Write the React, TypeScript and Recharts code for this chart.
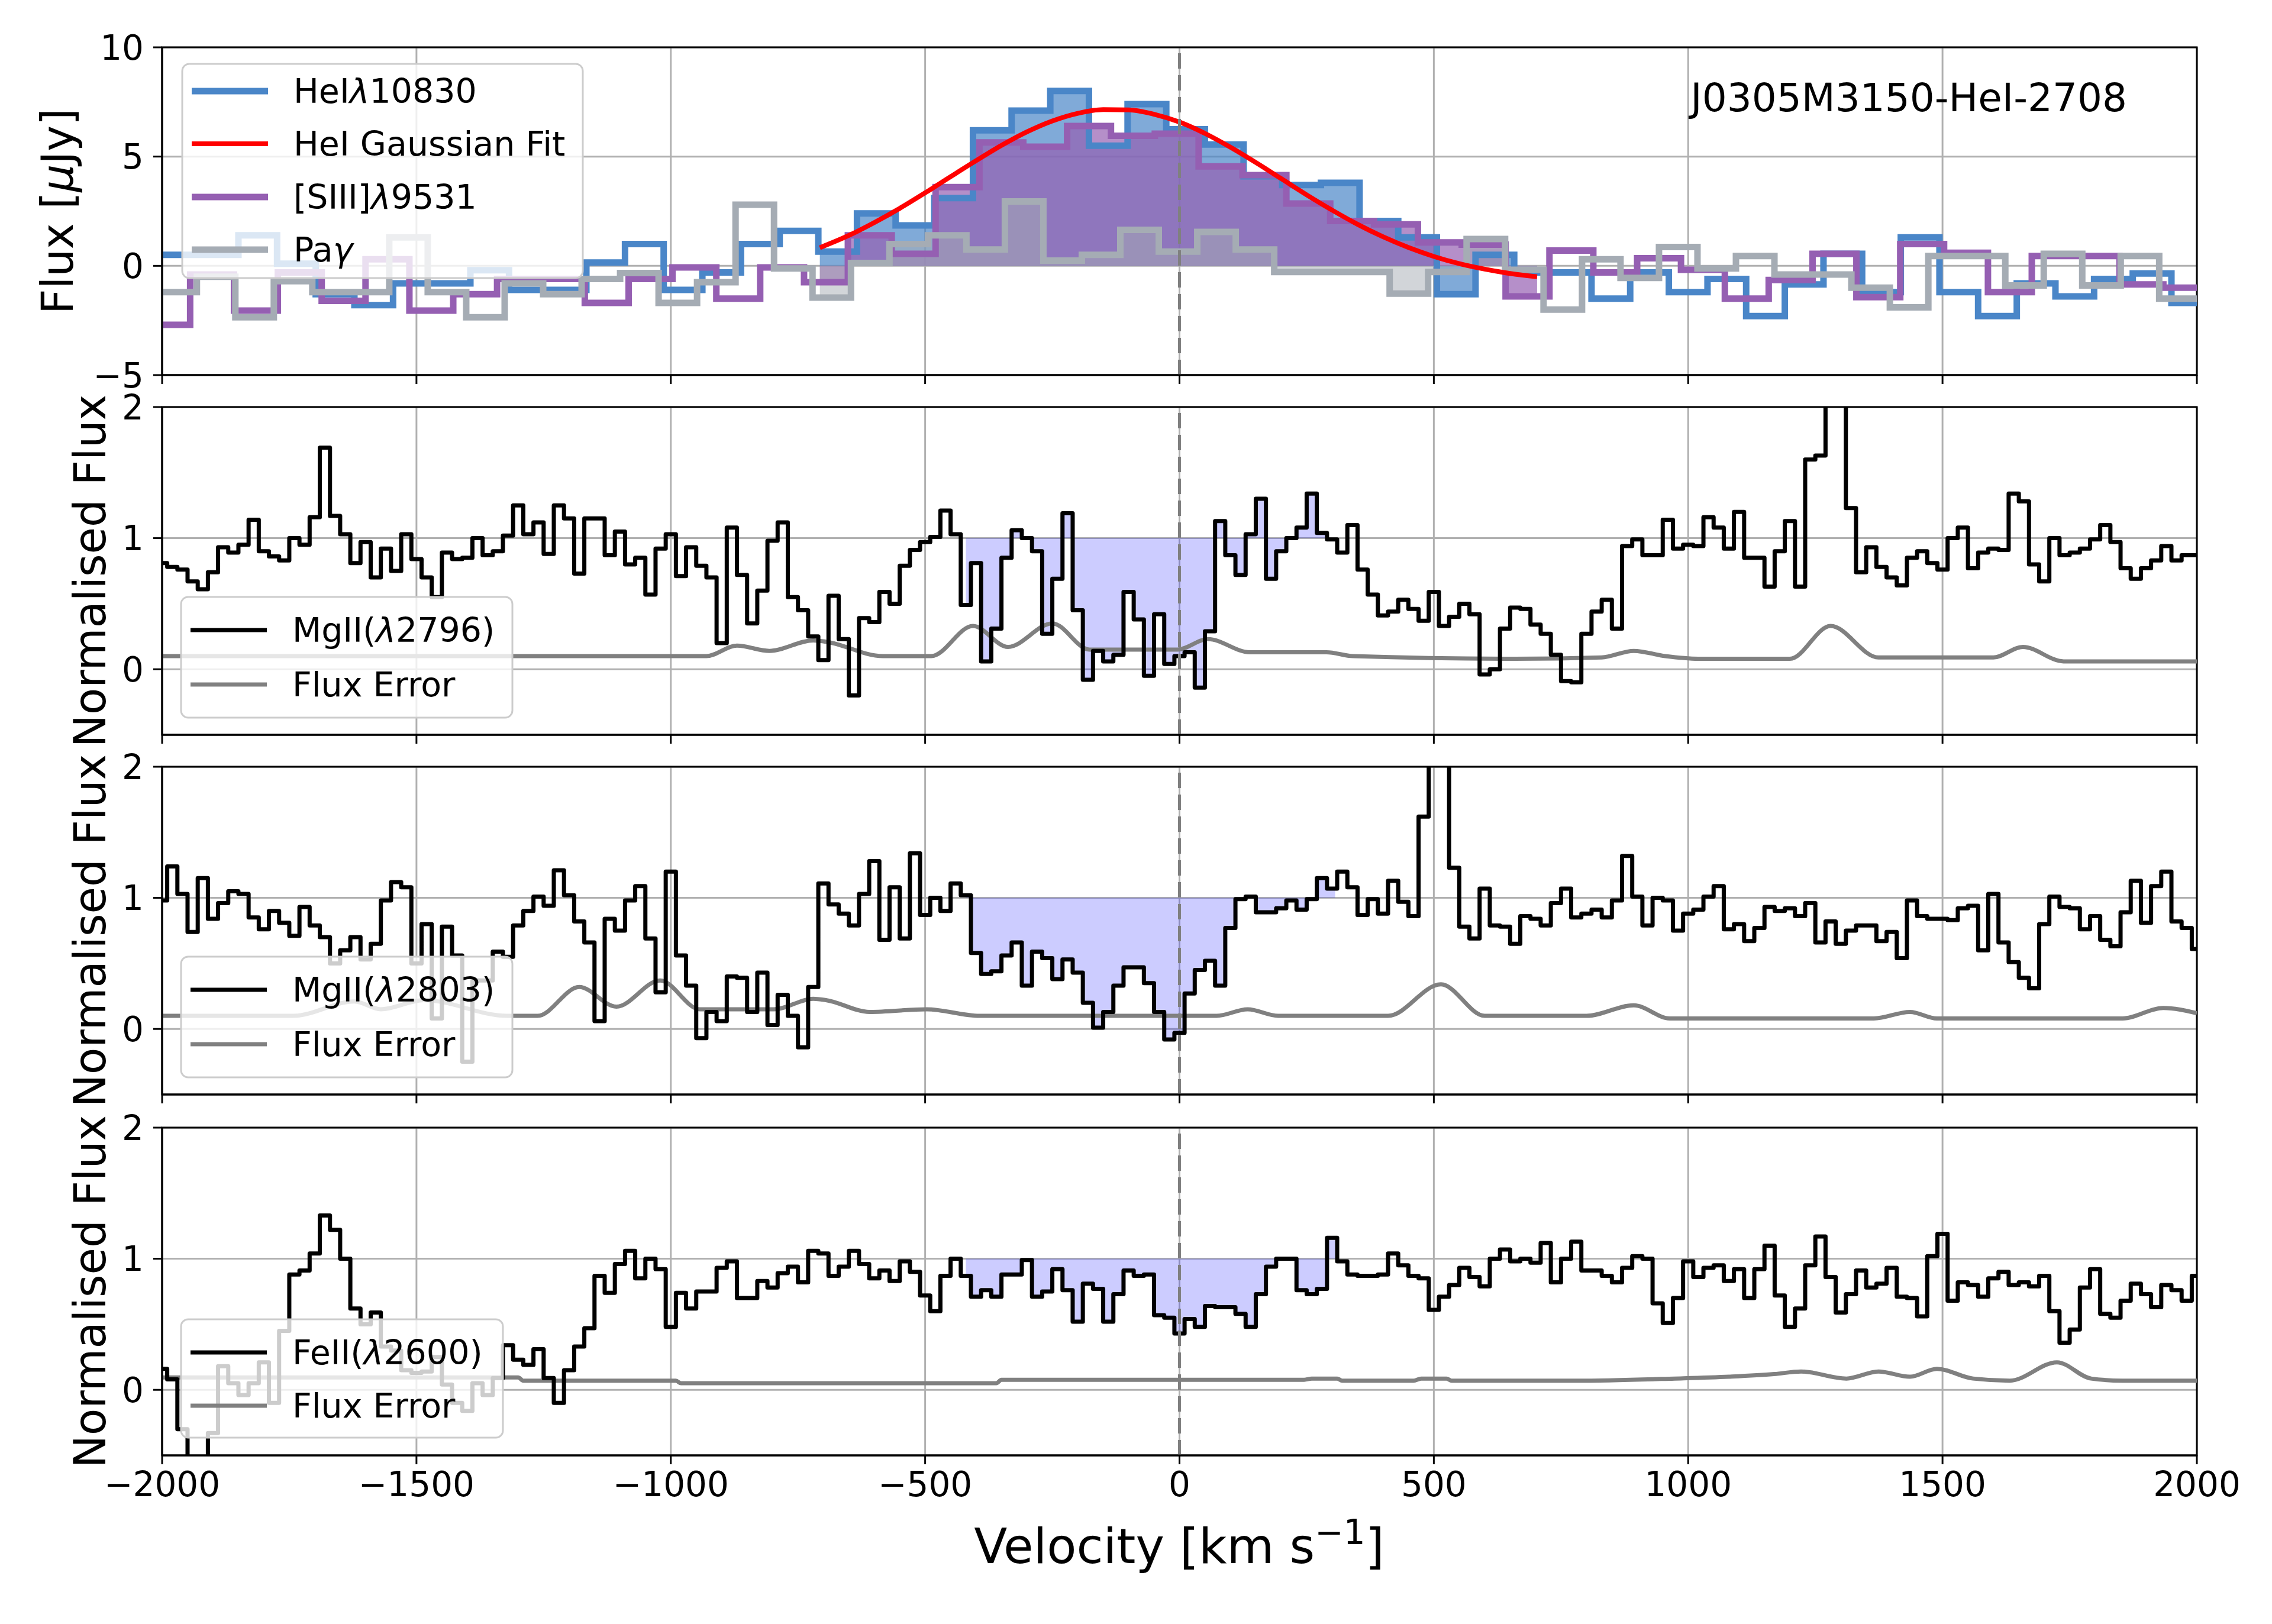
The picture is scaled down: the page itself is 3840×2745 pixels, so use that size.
import React from 'react';
import {
  ComposedChart,
  Line,
  Area,
  XAxis,
  YAxis,
  CartesianGrid,
  ReferenceLine,
  ReferenceArea,
} from 'recharts';

const FONT = "'DejaVu Sans', sans-serif";

// pixel grids in km/s: centre of first pixel and pixel width
const HEI_V0 = -1964;
const HEI_DV = 76;
const SIII_V0 = -1988;
const SIII_DV = 86.2;
const PAG_V0 = -1969.5;
const PAG_DV = 75.64;
const ABS_V0 = -2000;
const ABS_DV = 20;

// emission lines, flux in uJy
const heiFlux = [
  0.5, 0.5, 1.4, 0.1, -1.3, -1.8, -0.8, -0.8, -0.2, -1.1,
  -1.1, 0.15, 1.0, -1.1, -0.3, 1.0, 1.6, 0.65, 2.4, 1.85,
  3.1, 6.2, 7.1, 8.0, 5.5, 7.4, 6.25, 5.55, 4.1, 3.7,
  3.8, 2.05, 1.3, -1.3, 0.5, -0.3, -0.3, -1.5, -0.3, -1.2,
  -0.6, -2.3, -0.85, 0.55, -1.2, 1.3, -1.2, -2.3, -0.8, -1.4,
  -0.6, -0.35, -1.7, -1.7,
];
const siiiFlux = [
  -2.7, -0.4, -2.05, -0.3, -1.6, 0.3, -2.05, -1.3, -0.6, -0.6,
  -1.7, -0.6, -0.07, -1.5, -0.07, -0.75, 1.4, 0.55, 3.6, 5.65,
  5.45, 6.4, 5.95, 6.05, 4.55, 4.15, 2.85, 2.05, 1.9, 1.07,
  0.97, -1.4, 0.7, -0.3, 0.35, -0.18, -1.5, -0.65, 0.55, -1.43,
  1.0, 0.6, -1.2, 0.45, 0.45, -0.85, -1.0, -1.0,
];
const pagFlux = [
  -1.2, -0.5, -2.35, -0.7, -1.2, -1.2, 1.3, -1.2, -2.35, -0.8,
  -1.3, -0.6, -0.33, -1.7, -0.75, 2.8, -0.12, -1.45, 0.13, 1.0,
  1.4, 0.75, 2.95, 0.24, 0.5, 1.65, 0.65, 1.55, 0.75, -0.28,
  -0.28, -0.28, -1.27, -0.28, 1.23, -0.18, -2.0, 0.3, -0.55, 0.86,
  -0.12, 0.45, -0.4, -0.4, -1.0, -1.9, 0.45, 0.45, -0.9, 0.55,
  -0.9, 0.45, -1.5, -1.5,
];
const gaussV = [
  -707, -650, -600, -550, -500, -450, -400, -350, -300, -250,
  -200, -150, -100, -50, 0, 50, 100, 150, 200, 250,
  300, 350, 400, 450, 500, 550, 600, 650, 703,
];
const gaussFlux = [
  0.83, 1.39, 1.98, 2.63, 3.34, 4.08, 4.81, 5.51, 6.13, 6.63,
  6.98, 7.15, 7.14, 6.94, 6.58, 6.06, 5.43, 4.73, 3.99, 3.25,
  2.55, 1.9, 1.33, 0.84, 0.43, 0.1, -0.15, -0.35, -0.5,
];

// absorption lines, normalised flux on the 20 km/s grid
const mg2796 = [
  0.81, 0.78, 0.76, 0.67, 0.61, 0.74, 0.93, 0.89, 0.95, 1.14,
  0.9, 0.86, 0.83, 1.0, 0.95, 1.16, 1.69, 1.17, 1.03, 0.81,
  0.97, 0.7, 0.92, 0.75, 1.03, 0.84, 0.7, 0.55, 0.89, 0.84,
  0.85, 1.0, 0.87, 0.9, 1.02, 1.25, 1.03, 1.12, 0.88, 1.25,
  1.15, 0.73, 1.15, 1.15, 0.87, 1.05, 0.8, 0.85, 0.57, 0.92,
  1.03, 0.71, 0.93, 0.79, 0.7, 0.2, 1.08, 0.72, 0.35, 0.6,
  0.98, 1.12, 0.55, 0.45, 0.25, 0.07, 0.56, 0.23, -0.2, 0.39,
  0.36, 0.59, 0.5, 0.79, 0.91, 0.97, 1.01, 1.21, 1.03, 0.49,
  0.81, 0.06, 0.31, 0.85, 1.06, 1.0, 0.9, 0.27, 0.69, 1.19,
  0.45, -0.08, 0.14, 0.06, 0.11, 0.59, 0.38, -0.05, 0.42, 0.04,
  0.1, 0.13, -0.14, 0.29, 1.13, 0.87, 0.72, 1.03, 1.3, 0.69,
  0.9, 1.0, 1.08, 1.34, 1.04, 0.99, 0.89, 1.1, 0.76, 0.57,
  0.41, 0.44, 0.53, 0.46, 0.37, 0.59, 0.33, 0.4, 0.5, 0.42,
  -0.04, 0.0, 0.31, 0.47, 0.46, 0.34, 0.27, 0.11, -0.09, -0.1,
  0.27, 0.44, 0.53, 0.31, 0.94, 0.99, 0.87, 0.87, 1.14, 0.92,
  0.95, 0.94, 1.16, 1.08, 0.92, 1.2, 0.85, 0.85, 0.63, 0.9,
  1.13, 0.63, 1.6, 1.63, 2.6, 2.6, 1.23, 0.74, 0.93, 0.78,
  0.7, 0.64, 0.85, 0.9, 0.81, 0.76, 1.0, 1.08, 0.77, 0.89,
  0.92, 0.91, 1.34, 1.28, 0.8, 0.67, 1.0, 0.87, 0.89, 0.92,
  0.99, 1.1, 0.97, 0.77, 0.69, 0.77, 0.83, 0.94, 0.83, 0.87,
  0.87,
];
const mg2803 = [
  0.98, 1.24, 1.03, 0.74, 1.15, 0.84, 0.96, 1.05, 1.03, 0.85,
  0.76, 0.9, 0.81, 0.71, 0.93, 0.79, 0.7, 0.5, 0.6, 0.7,
  0.53, 0.65, 0.98, 1.12, 1.08, 0.5, 0.8, 0.08, 0.78, 0.56,
  -0.25, 0.37, 0.37, 0.59, 0.55, 0.79, 0.9, 1.01, 0.94, 1.21,
  1.02, 0.82, 0.66, 0.06, 0.84, 0.75, 0.98, 1.09, 0.69, 0.28,
  1.2, 0.56, 0.33, -0.07, 0.13, 0.06, 0.4, 0.39, 0.13, 0.43,
  0.03, 0.26, 0.1, -0.14, 0.32, 1.11, 0.95, 0.88, 0.79, 1.03,
  1.28, 0.68, 1.08, 0.69, 1.34, 0.87, 1.0, 0.9, 1.11, 1.02,
  0.58, 0.42, 0.44, 0.56, 0.66, 0.33, 0.59, 0.54, 0.38, 0.53,
  0.43, 0.2, 0.01, 0.13, 0.33, 0.47, 0.47, 0.35, 0.13, -0.08,
  -0.03, 0.27, 0.45, 0.52, 0.33, 0.77, 0.99, 1.01, 0.89, 0.89,
  0.92, 0.98, 0.91, 0.99, 1.15, 1.07, 1.2, 1.08, 0.87, 0.99,
  0.88, 1.13, 0.97, 0.86, 1.62, 2.6, 2.6, 1.23, 0.78, 0.69,
  1.07, 0.79, 0.78, 0.65, 0.86, 0.84, 0.79, 0.96, 1.07, 0.85,
  0.88, 0.91, 0.85, 0.98, 1.32, 1.01, 0.79, 1.0, 0.98, 0.75,
  0.88, 0.91, 1.01, 1.09, 0.76, 0.8, 0.67, 0.77, 0.93, 0.9,
  0.92, 0.86, 0.96, 0.66, 0.82, 0.65, 0.75, 0.79, 0.79, 0.67,
  0.74, 0.54, 0.98, 0.86, 0.84, 0.84, 0.83, 0.92, 0.94, 0.6,
  1.03, 0.66, 0.51, 0.39, 0.31, 0.8, 1.01, 0.93, 0.92, 0.76,
  0.86, 0.68, 0.63, 0.89, 1.13, 0.81, 1.09, 1.2, 0.82, 0.77,
  0.61,
];
const fe2600 = [
  0.16, 0.08, -0.3, -0.7, -0.7, -0.33, 0.18, 0.05, -0.04, 0.05,
  0.21, -0.1, 0.45, 0.88, 0.91, 1.04, 1.33, 1.22, 1.0, 0.62,
  0.5, 0.59, 0.33, 0.3, 0.15, 0.13, 0.14, 0.25, 0.04, -0.1,
  -0.16, 0.05, -0.04, 0.09, 0.34, 0.23, 0.19, 0.31, 0.09, -0.1,
  0.15, 0.33, 0.47, 0.87, 0.74, 0.96, 1.06, 0.85, 1.0, 0.92,
  0.48, 0.74, 0.62, 0.75, 0.75, 0.93, 0.98, 0.7, 0.7, 0.83,
  0.78, 0.89, 0.94, 0.82, 1.06, 1.04, 0.87, 0.94, 1.06, 0.96,
  0.85, 0.91, 0.83, 0.98, 0.9, 0.72, 0.6, 0.87, 1.0, 0.87,
  0.71, 0.76, 0.71, 0.88, 0.88, 0.99, 0.71, 0.75, 0.92, 0.76,
  0.52, 0.81, 0.77, 0.52, 0.73, 0.91, 0.87, 0.88, 0.57, 0.55,
  0.43, 0.54, 0.48, 0.64, 0.63, 0.63, 0.58, 0.48, 0.73, 0.94,
  1.0, 1.0, 0.76, 0.73, 0.77, 1.16, 0.98, 0.88, 0.87, 0.87,
  0.88, 1.04, 0.95, 0.87, 0.85, 0.61, 0.71, 0.8, 0.93, 0.86,
  0.79, 1.0, 1.07, 0.98, 1.0, 0.97, 1.12, 0.82, 1.0, 1.13,
  0.91, 0.91, 0.87, 0.82, 0.93, 1.02, 1.0, 0.66, 0.51, 0.7,
  0.98, 0.86, 0.93, 0.95, 0.83, 0.92, 0.7, 0.92, 1.1, 0.72,
  0.48, 0.62, 0.95, 1.17, 0.86, 0.59, 0.73, 0.91, 0.78, 0.81,
  0.93, 0.71, 0.7, 0.56, 1.02, 1.19, 0.68, 0.82, 0.8, 0.71,
  0.85, 0.9, 0.8, 0.82, 0.79, 0.87, 0.6, 0.36, 0.46, 0.78,
  0.92, 0.58, 0.55, 0.68, 0.81, 0.73, 0.63, 0.8, 0.76, 0.68,
  0.87,
];

// flux errors (sparse, read at the turning points)
const err2796V = [-2000, -930, -870, -806, -720, -695, -583, -488, -406, -337, -250, -177, -4, 56, 138, 289, 341, 660, 830, 893, 955, 1020, 1200, 1280, 1374, 1600, 1658, 1738, 2000];
const err2796 = [0.1, 0.1, 0.18, 0.14, 0.22, 0.21, 0.1, 0.1, 0.33, 0.17, 0.35, 0.15, 0.15, 0.23, 0.13, 0.13, 0.1, 0.08, 0.09, 0.14, 0.1, 0.08, 0.08, 0.33, 0.09, 0.09, 0.17, 0.06, 0.06];
const err2803V = [-2000, -1742, -1622, -1570, -1485, -1322, -1262, -1180, -1107, -1021, -943, -797, -720, -695, -609, -497, -393, 73, 134, 194, 410, 514, 600, 800, 893, 964, 1365, 1436, 1489, 1854, 1934, 2000];
const err2803 = [0.1, 0.1, 0.21, 0.15, 0.22, 0.1, 0.1, 0.32, 0.17, 0.37, 0.15, 0.15, 0.23, 0.22, 0.13, 0.15, 0.1, 0.1, 0.15, 0.1, 0.1, 0.34, 0.1, 0.1, 0.18, 0.08, 0.08, 0.13, 0.08, 0.08, 0.16, 0.12];
const err2600V = [-2000, -1300, -1290, -990, -980, -360, -350, 245, 260, 310, 320, 460, 475, 525, 535, 780, 973, 1080, 1169, 1222, 1311, 1374, 1436, 1489, 1560, 1632, 1725, 1792, 1854, 2000];
const err2600 = [0.095, 0.095, 0.07, 0.07, 0.05, 0.05, 0.077, 0.077, 0.086, 0.086, 0.07, 0.07, 0.086, 0.086, 0.07, 0.07, 0.086, 0.1, 0.12, 0.14, 0.086, 0.14, 0.1, 0.16, 0.086, 0.07, 0.21, 0.086, 0.07, 0.07];

const velocityTicks = [-2000, -1500, -1000, -500, 0, 500, 1000, 1500, 2000];
const fluxTicks = [-5, 0, 5, 10];
const normTicks = [0, 1, 2];

// shaded velocity windows
const FIT_LO = -707;
const FIT_HI = 703;
const ABS_LO = -420;
const ABS_HI = 306;

const HEI_COLOR = '#4a86c8';
const SIII_COLOR = '#955fb2';
const PAG_COLOR = '#a5acb4';

type Pt = { v: number; y: number };

// pixel centres -> step-after points on the pixel edges
const toSteps = (v0: number, dv: number, ys: number[]): Pt[] => {
  const pts = ys.map((y, i) => ({ v: v0 + dv * (i - 0.5), y }));
  pts.push({ v: v0 + dv * (ys.length - 0.5), y: ys[ys.length - 1] });
  return pts;
};

const clipSteps = (pts: Pt[], lo: number, hi: number): Pt[] => {
  const out: Pt[] = [];
  for (let i = 0; i < pts.length - 1; i++) {
    if (pts[i + 1].v <= lo || pts[i].v >= hi) continue;
    out.push({ v: Math.max(pts[i].v, lo), y: pts[i].y });
  }
  out.push({ v: hi, y: out[out.length - 1].y });
  return out;
};

const toPts = (vs: number[], ys: number[]): Pt[] => vs.map((v, i) => ({ v, y: ys[i] }));

const fmt = (n: number) => (n < 0 ? `\u2212${Math.abs(n)}` : `${n}`);

const heiSteps = toSteps(HEI_V0, HEI_DV, heiFlux);
const siiiSteps = toSteps(SIII_V0, SIII_DV, siiiFlux);
const pagSteps = toSteps(PAG_V0, PAG_DV, pagFlux);
const gaussPts = toPts(gaussV, gaussFlux);

const WIDTH = 3840;
const PLOT_LEFT = 274;
const PLOT_RIGHT = 3713;
const PLOT_H = 554;
const PAD_TOP = 45;

const axisStroke = { stroke: '#000', strokeWidth: 3 };
const tickStyle = { fill: '#000', fontSize: 58, fontFamily: FONT };
const noLabel = () => <g />;

type PanelProps = {
  top: number;
  yDomain: [number, number];
  yTicks: number[];
  showXLabels?: boolean;
  children: React.ReactNode;
};

const Panel = ({ top, yDomain, yTicks, showXLabels = false, children }: PanelProps) => {
  const xAxisH = showXLabels ? 140 : 40;
  return (
    <div style={{ position: 'absolute', left: 0, top: top - PAD_TOP }}>
      <ComposedChart
        width={WIDTH}
        height={PAD_TOP + PLOT_H + xAxisH}
        margin={{ top: PAD_TOP, right: WIDTH - PLOT_RIGHT, bottom: 0, left: 0 }}
      >
        <CartesianGrid stroke="#b0b0b0" strokeWidth={3} />
        <XAxis
          dataKey="v"
          type="number"
          domain={[-2000, 2000]}
          ticks={velocityTicks}
          interval={0}
          allowDataOverflow
          height={xAxisH}
          tickSize={15}
          tickMargin={13}
          tickFormatter={fmt}
          tick={showXLabels ? tickStyle : noLabel}
          axisLine={axisStroke}
          tickLine={axisStroke}
        />
        <YAxis
          type="number"
          domain={yDomain}
          ticks={yTicks}
          interval={0}
          allowDataOverflow
          width={PLOT_LEFT}
          tickSize={15}
          tickMargin={16}
          tickFormatter={fmt}
          tick={tickStyle}
          axisLine={axisStroke}
          tickLine={axisStroke}
        />
        {children}
        <ReferenceLine x={0} stroke="#808080" strokeWidth={5} strokeDasharray="26 11" />
        <ReferenceArea x1={-2000} x2={2000} y1={yDomain[0]} y2={yDomain[1]} fill="none" stroke="#000" strokeWidth={3} />
      </ComposedChart>
    </div>
  );
};

const absorption = (flux: number[], errV: number[], err: number[]) => {
  const steps = toSteps(ABS_V0, ABS_DV, flux);
  return [
    <Area key="fill" data={clipSteps(steps, ABS_LO, ABS_HI)} dataKey="y" type="stepAfter" baseValue={1} stroke="none" fill="#0000ff" fillOpacity={0.2} isAnimationActive={false} />,
    <Line key="err" data={toPts(errV, err)} dataKey="y" type="monotone" stroke="#808080" strokeWidth={7} dot={false} isAnimationActive={false} />,
    <Line key="flux" data={steps} dataKey="y" type="stepAfter" stroke="#000" strokeWidth={7} strokeLinejoin="round" dot={false} isAnimationActive={false} />,
  ];
};

type Row = { y: number; color: string; width: number; label: React.ReactNode };

const LegendBox = ({ x, y, w, h, rows }: { x: number; y: number; w: number; h: number; rows: Row[] }) => (
  <g>
    <rect x={x} y={y} width={w} height={h} rx={12} fill="#fff" fillOpacity={0.8} stroke="#cccccc" strokeWidth={3} />
    {rows.map((r, i) => (
      <g key={i}>
        <line x1={x + 16} x2={x + 145} y1={r.y} y2={r.y} stroke={r.color} strokeWidth={r.width} />
        <text x={x + 188} y={r.y} dominantBaseline="central" fontSize={57} fill="#000">
          {r.label}
        </text>
      </g>
    ))}
  </g>
);

const lam = <tspan fontStyle="italic">λ</tspan>;

export default function App() {
  return (
    <div style={{ position: 'absolute', left: 0, top: 0, width: 3840, height: 2745, background: '#fff', fontFamily: FONT }}>
      <Panel top={80} yDomain={[-5, 10]} yTicks={fluxTicks}>
        <Area data={clipSteps(heiSteps, FIT_LO, FIT_HI)} dataKey="y" type="stepAfter" baseValue={0} stroke="none" fill={HEI_COLOR} fillOpacity={0.7} isAnimationActive={false} />
        <Area data={clipSteps(siiiSteps, FIT_LO, FIT_HI)} dataKey="y" type="stepAfter" baseValue={0} stroke="none" fill={SIII_COLOR} fillOpacity={0.7} isAnimationActive={false} />
        <Area data={clipSteps(pagSteps, FIT_LO, FIT_HI)} dataKey="y" type="stepAfter" baseValue={0} stroke="none" fill={PAG_COLOR} fillOpacity={0.5} isAnimationActive={false} />
        <Line data={heiSteps} dataKey="y" type="stepAfter" stroke={HEI_COLOR} strokeWidth={11} dot={false} isAnimationActive={false} />
        <Line data={siiiSteps} dataKey="y" type="stepAfter" stroke={SIII_COLOR} strokeWidth={11} dot={false} isAnimationActive={false} />
        <Line data={pagSteps} dataKey="y" type="stepAfter" stroke={PAG_COLOR} strokeWidth={11} dot={false} isAnimationActive={false} />
        <Line data={gaussPts} dataKey="y" type="monotone" stroke="#ff0000" strokeWidth={8} dot={false} isAnimationActive={false} />
      </Panel>
      <Panel top={688} yDomain={[-0.5, 2]} yTicks={normTicks}>
        {absorption(mg2796, err2796V, err2796)}
      </Panel>
      <Panel top={1296} yDomain={[-0.5, 2]} yTicks={normTicks}>
        {absorption(mg2803, err2803V, err2803)}
      </Panel>
      <Panel top={1906} yDomain={[-0.5, 2]} yTicks={normTicks} showXLabels>
        {absorption(fe2600, err2600V, err2600)}
      </Panel>

      <svg width={3840} height={2745} style={{ position: 'absolute', left: 0, top: 0, pointerEvents: 'none' }} fontFamily={FONT}>
        <text x={3595} y={188} textAnchor="end" fontSize={66} fill="#000">J0305M3150-HeI-2708</text>
        <text transform="translate(97 357) rotate(-90)" textAnchor="middle" dominantBaseline="central" fontSize={74} fill="#000">
          Flux [<tspan fontStyle="italic">μ</tspan>Jy]
        </text>
        {[965, 1573, 2183].map((c) => (
          <text key={c} transform={`translate(152 ${c}) rotate(-90)`} textAnchor="middle" dominantBaseline="central" fontSize={74} fill="#000">
            Normalised Flux
          </text>
        ))}
        <text x={1993} y={2642} textAnchor="middle" fontSize={82} fill="#000">
          Velocity [km s<tspan dy={-32} fontSize={58}>{'\u2212'}1</tspan><tspan dy={32}>]</tspan>
        </text>

        <LegendBox
          x={308}
          y={108}
          w={677}
          h={362}
          rows={[
            { y: 154, color: HEI_COLOR, width: 11, label: <>HeI{lam}10830</> },
            { y: 243, color: '#ff0000', width: 8, label: 'HeI Gaussian Fit' },
            { y: 333, color: SIII_COLOR, width: 11, label: <>[SIII]{lam}9531</> },
            { y: 422, color: PAG_COLOR, width: 11, label: <>Pa<tspan fontStyle="italic">γ</tspan></> },
          ]}
        />
        <LegendBox
          x={306}
          y={1009}
          w={560}
          h={204}
          rows={[
            { y: 1065, color: '#000', width: 7, label: <>MgII({lam}2796)</> },
            { y: 1157, color: '#808080', width: 7, label: 'Flux Error' },
          ]}
        />
        <LegendBox
          x={306}
          y={1617}
          w={560}
          h={204}
          rows={[
            { y: 1673, color: '#000', width: 7, label: <>MgII({lam}2803)</> },
            { y: 1765, color: '#808080', width: 7, label: 'Flux Error' },
          ]}
        />
        <LegendBox
          x={306}
          y={2230}
          w={544}
          h={200}
          rows={[
            { y: 2286, color: '#000', width: 7, label: <>FeII({lam}2600)</> },
            { y: 2376, color: '#808080', width: 7, label: 'Flux Error' },
          ]}
        />
      </svg>
    </div>
  );
}
